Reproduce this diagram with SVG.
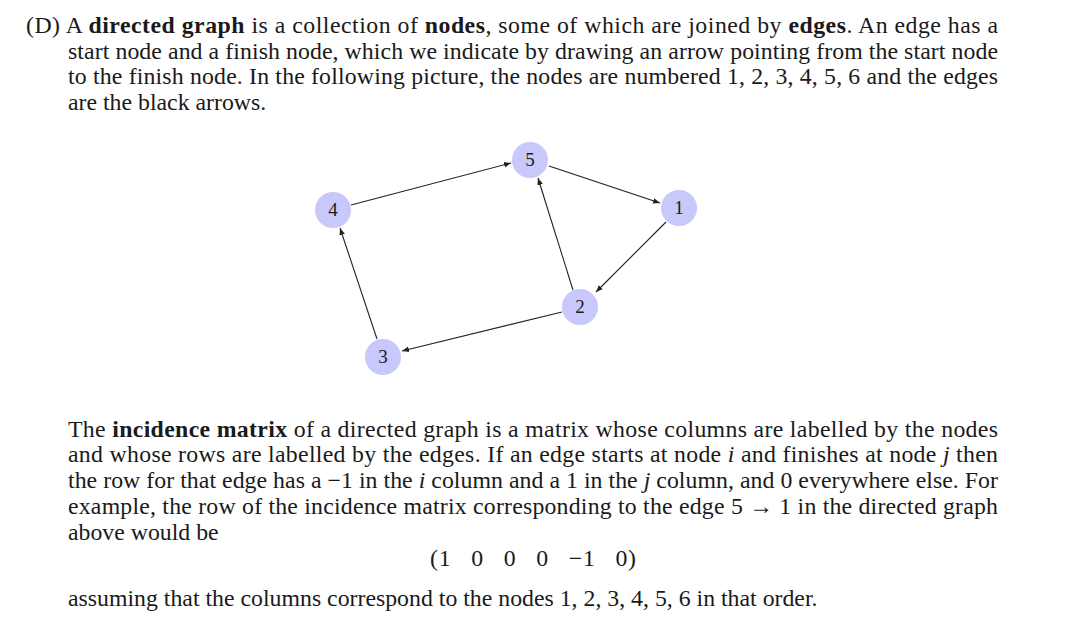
<svg xmlns="http://www.w3.org/2000/svg" width="1080" height="620" viewBox="0 0 1080 620">
<style>
text{font-family:"Liberation Serif","DejaVu Serif",serif;font-size:23.8px;fill:#1a1a1a}
.b{font-weight:bold}
.n circle{fill:#c8c8fa}
.n text{font-size:19px;text-anchor:middle}
.e line{stroke:#222;stroke-width:1.1;marker-end:url(#ah)}
</style>
<defs><marker id="ah" viewBox="0 0 10 10" refX="10" refY="5" markerWidth="7" markerHeight="7" orient="auto" markerUnits="userSpaceOnUse"><path d="M0,1L10,5L0,9z" fill="#222"/></marker></defs>
<rect width="1080" height="620" fill="#fff"/>
<text x="26" y="33" textLength="972" lengthAdjust="spacing">(D) A <tspan class="b">directed graph</tspan> is a collection of <tspan class="b">nodes</tspan>, some of which are joined by <tspan class="b">edges</tspan>. An edge has a</text>
<text x="68" y="59" textLength="930" lengthAdjust="spacing">start node and a finish node, which we indicate by drawing an arrow pointing from the start node</text>
<text x="68" y="84" textLength="930" lengthAdjust="spacing">to the finish node. In the following picture, the nodes are numbered 1, 2, 3, 4, 5, 6 and the edges</text>
<text x="68" y="110">are the black arrows.</text>
<g id="edges" class="e">
<line x1="351" y1="205" x2="511" y2="163"/>
<line x1="549" y1="166" x2="660" y2="203"/>
<line x1="666" y1="222" x2="596" y2="292"/>
<line x1="573" y1="290" x2="538" y2="178"/>
<line x1="562" y1="312" x2="402" y2="351"/>
<line x1="377" y1="339" x2="340" y2="228"/>
</g>
<g id="n5" class="n"><circle cx="530" cy="160" r="18"/><text x="530" y="166">5</text></g>
<g id="n4" class="n"><circle cx="333" cy="210" r="18"/><text x="333" y="216">4</text></g>
<g id="n1" class="n"><circle cx="679" cy="208" r="18"/><text x="679" y="214">1</text></g>
<g id="n2" class="n"><circle cx="580" cy="307" r="18"/><text x="580" y="313">2</text></g>
<g id="n3" class="n"><circle cx="383" cy="357" r="18"/><text x="383" y="363">3</text></g>
<text x="68" y="437" textLength="930" lengthAdjust="spacing">The <tspan class="b">incidence matrix</tspan> of a directed graph is a matrix whose columns are labelled by the nodes</text>
<text x="68" y="462" textLength="930" lengthAdjust="spacing">and whose rows are labelled by the edges. If an edge starts at node <tspan font-style="italic">i</tspan> and finishes at node <tspan font-style="italic">j</tspan> then</text>
<text x="68" y="488" textLength="930" lengthAdjust="spacing">the row for that edge has a −1 in the <tspan font-style="italic">i</tspan> column and a 1 in the <tspan font-style="italic">j</tspan> column, and 0 everywhere else. For</text>
<text x="68" y="514" textLength="930" lengthAdjust="spacing">example, the row of the incidence matrix corresponding to the edge 5 → 1 in the directed graph</text>
<text x="68" y="540">above would be</text>
<text x="430" y="566" xml:space="preserve" textLength="206" lengthAdjust="spacing">(1   0   0   0   −1   0)</text>
<text x="68" y="606">assuming that the columns correspond to the nodes 1, 2, 3, 4, 5, 6 in that order.</text>
</svg>
